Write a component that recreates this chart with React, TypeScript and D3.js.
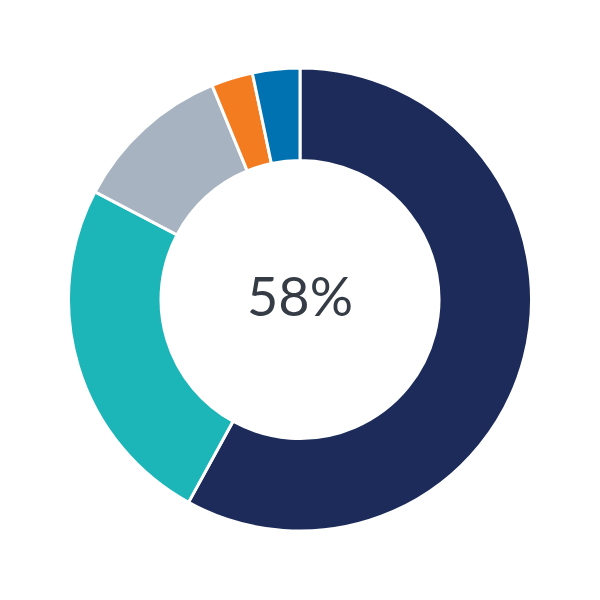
import React from "react";
import * as d3 from "d3";

const categories = ["A", "B", "C", "D", "E"];
const values = [58, 24.7, 11.1, 2.9, 3.3];
const colors = ["#1c2b5a", "#1cb5b8", "#a8b3c1", "#f47c20", "#0072b1"];
const centerLabel = "58%";

export default function App() {
  const width = 600;
  const height = 600;
  const cx = 300;
  const cy = 299.5;
  const outerR = 231.5;
  const innerR = 139;

  const pie = d3
    .pie<number>()
    .sort(null)
    .value((d) => d);
  const arcs = pie(values);
  const arc = d3.arc<d3.PieArcDatum<number>>().innerRadius(innerR).outerRadius(outerR);

  return (
    <svg
      width={width}
      height={height}
      style={{ position: "absolute", left: 0, top: 0, background: "#fff" }}
    >
      <g transform={`translate(${cx},${cy})`}>
        {arcs.map((a, i) => (
          <path
            key={categories[i]}
            d={arc(a) || ""}
            fill={colors[i]}
            stroke="#ffffff"
            strokeWidth={3}
          />
        ))}
        <text
          x={0}
          y={16.5}
          textAnchor="middle"
          fontFamily="Lato, 'Open Sans', sans-serif"
          fontSize={54}
          fill="#363c45"
        >
          {centerLabel}
        </text>
      </g>
    </svg>
  );
}
